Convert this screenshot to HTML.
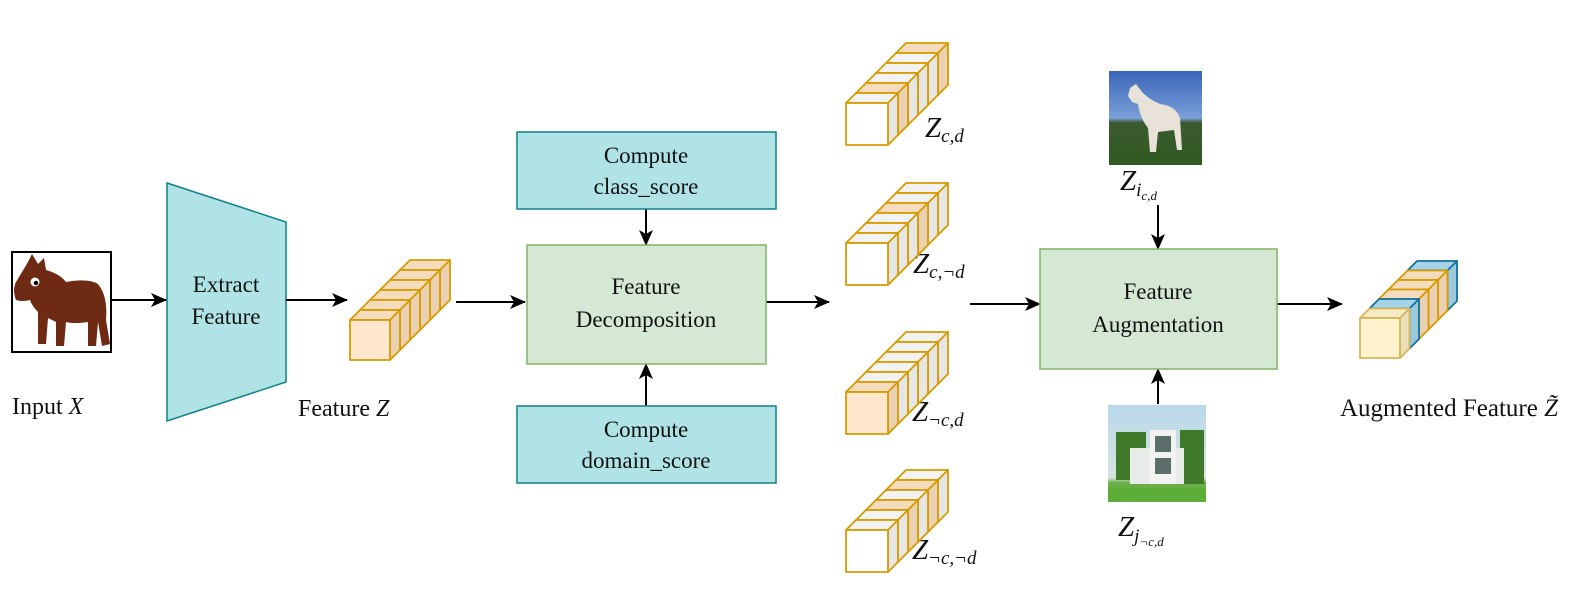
<!DOCTYPE html>
<html><head><meta charset="utf-8"><style>
body{margin:0;background:#fff;}
svg{display:block;}
text{font-family:"Liberation Serif",serif;fill:#111;}
</style></head><body>
<svg id="s" width="1578" height="599" viewBox="0 0 1578 599" xmlns="http://www.w3.org/2000/svg">
<defs>
<marker id="ah" markerWidth="16" markerHeight="14" refX="15" refY="7" orient="auto" markerUnits="userSpaceOnUse">
<path d="M0,0 L16,7 L0,14 L4,7 Z" fill="#000"/>
</marker>
<linearGradient id="sky" x1="0" y1="0" x2="0" y2="1"><stop offset="0" stop-color="#3a64b8"/><stop offset="0.5" stop-color="#7aa0d8"/><stop offset="0.55" stop-color="#3c5a30"/><stop offset="1" stop-color="#2f5a20"/></linearGradient>
<linearGradient id="sky2" x1="0" y1="0" x2="0" y2="1"><stop offset="0" stop-color="#b8d8ea"/><stop offset="0.75" stop-color="#d8e4e0"/><stop offset="0.8" stop-color="#6cb04a"/><stop offset="1" stop-color="#5aa838"/></linearGradient>
</defs>

<!-- Input horse -->
<rect x="12" y="252" width="99" height="100" fill="#fff" stroke="#000" stroke-width="2"/>
<path d="M28,262 L32,254 L38,264 L44,258 L46,270 Q60,274 66,282 Q88,278 98,284 Q108,296 106,320 L110,344 L102,346 L98,322 L96,346 L88,346 L88,322 Q74,324 66,322 L64,346 L56,346 L56,322 L48,318 L46,344 L38,344 L38,312 Q32,306 30,300 Q22,302 16,300 Q12,290 16,282 Q22,272 28,262 Z" fill="#6e2a12"/>
<circle cx="35" cy="282" r="4.5" fill="#fff"/><circle cx="36" cy="283" r="2.2" fill="#000"/>
<text x="12" y="414" font-size="24">Input <tspan font-style="italic">X</tspan></text>

<!-- Extract feature -->
<polygon points="167,183 286,222 286,382 167,421" fill="#b0e3e6" stroke="#0e8088" stroke-width="1.5"/>
<text x="226" y="292" font-size="23" text-anchor="middle">Extract</text>
<text x="226" y="324" font-size="23" text-anchor="middle">Feature</text>

<!-- arrows -->
<g stroke="#000" stroke-width="2" marker-end="url(#ah)">
<line x1="111" y1="300" x2="166" y2="300"/>
<line x1="286" y1="300" x2="347" y2="300"/>
<line x1="456" y1="302" x2="525" y2="302"/>
<line x1="766" y1="302" x2="829" y2="302"/>
<line x1="970" y1="304" x2="1040" y2="304"/>
<line x1="1277" y1="304" x2="1342" y2="304"/>
<line x1="646" y1="209" x2="646" y2="245"/>
<line x1="646" y1="406" x2="646" y2="364"/>
<line x1="1158" y1="205" x2="1158" y2="249"/>
<line x1="1158" y1="404" x2="1158" y2="369"/>
</g>

<text x="298" y="416" font-size="24">Feature <tspan font-style="italic">Z</tspan></text>

<!-- Decomposition boxes -->
<rect x="517" y="132" width="259" height="77" fill="#b0e3e6" stroke="#0e8088" stroke-width="1.5"/>
<text x="646" y="163" font-size="23" text-anchor="middle">Compute</text>
<text x="646" y="194" font-size="23" text-anchor="middle">class_score</text>
<rect x="527" y="245" width="239" height="119" fill="#d5e8d4" stroke="#82b366" stroke-width="1.5"/>
<text x="646" y="294" font-size="23" text-anchor="middle">Feature</text>
<text x="646" y="327" font-size="23" text-anchor="middle">Decomposition</text>
<rect x="517" y="406" width="259" height="77" fill="#b0e3e6" stroke="#0e8088" stroke-width="1.5"/>
<text x="646" y="437" font-size="23" text-anchor="middle">Compute</text>
<text x="646" y="468" font-size="23" text-anchor="middle">domain_score</text>

<!-- Z labels -->
<text x="925" y="137" font-size="29" font-style="italic">Z<tspan font-size="19" dy="5">c,d</tspan></text>
<text x="913" y="273" font-size="29" font-style="italic">Z<tspan font-size="19" dy="5">c,¬d</tspan></text>
<text x="912" y="421" font-size="29" font-style="italic">Z<tspan font-size="19" dy="5">¬c,d</tspan></text>
<text x="912" y="559" font-size="29" font-style="italic">Z<tspan font-size="19" dy="5">¬c,¬d</tspan></text>

<!-- Augmentation -->
<rect x="1040" y="249" width="237" height="120" fill="#d5e8d4" stroke="#82b366" stroke-width="1.5"/>
<text x="1158" y="299" font-size="23" text-anchor="middle">Feature</text>
<text x="1158" y="332" font-size="23" text-anchor="middle">Augmentation</text>

<!-- images -->
<rect x="1109" y="71" width="93" height="94" fill="url(#sky)"/>
<path d="M1130,88 L1136,84 L1142,92 Q1150,100 1160,104 Q1176,106 1180,118 L1182,150 L1177,150 L1174,130 L1158,132 L1156,152 L1150,152 L1148,128 Q1140,118 1138,104 L1132,102 L1128,96 Z" fill="#e8e2d8"/>
<rect x="1108" y="405" width="98" height="97" fill="url(#sky2)"/>
<rect x="1116" y="432" width="30" height="48" fill="#3f7a2a"/>
<rect x="1180" y="430" width="24" height="54" fill="#3f7a2a"/>
<rect x="1130" y="448" width="54" height="36" fill="#e8ece8"/>
<rect x="1150" y="430" width="26" height="54" fill="#f2f2f0"/>
<rect x="1155" y="436" width="16" height="16" fill="#5a6e6a"/>
<rect x="1155" y="458" width="16" height="16" fill="#5a6e6a"/>
<rect x="1108" y="488" width="98" height="14" fill="#5cae38"/>

<text x="1120" y="190" font-size="29" font-style="italic">Z<tspan font-size="19" dy="6">i</tspan><tspan font-size="13" dy="4">c,d</tspan></text>
<text x="1118" y="536" font-size="29" font-style="italic">Z<tspan font-size="19" dy="6">j</tspan><tspan font-size="13" dy="4">¬c,d</tspan></text>

<text x="1340" y="416" font-size="25">Augmented Feature <tspan font-style="italic">Z̃</tspan></text>
<g id="cubes"></g>
</svg>
<script>
var C={
 o:{f:"#ffe6cc",t:"#f6dcbf",r:"#ebd1b3",s:"#d79b00"},
 w:{f:"#ffffff",t:"#f2f2f2",r:"#e6e6e6",s:"#d79b00"},
 y:{f:"#fff2cc",t:"#f7ebc6",r:"#ece0bc",s:"#d6b656"},
 b:{f:"#b1ddf0",t:"#a6d3e8",r:"#9cc9de",s:"#10739e"}
};
var g=document.getElementById("cubes"),out="";
function stack(x,y,s,d,cols){
 for(var i=cols.length-1;i>=0;i--){
  var c=C[cols[i]],X=x+i*d,Y=y-i*d,st=' stroke="'+c.s+'" stroke-width="1.8" stroke-linejoin="round"';
  out+='<polygon points="'+X+','+Y+' '+(X+d)+','+(Y-d)+' '+(X+s+d)+','+(Y-d)+' '+(X+s)+','+Y+'" fill="'+c.t+'"'+st+'/>';
  out+='<polygon points="'+(X+s)+','+Y+' '+(X+s+d)+','+(Y-d)+' '+(X+s+d)+','+(Y+s-d)+' '+(X+s)+','+(Y+s)+'" fill="'+c.r+'"'+st+'/>';
  out+='<rect x="'+X+'" y="'+Y+'" width="'+s+'" height="'+s+'" fill="'+c.f+'"'+st+'/>';
 }
}
stack(350,320,40,10,["o","o","o","o","o","o"]);
stack(846,103,42,10,["w","o","w","w","w","o"]);
stack(846,243,42,10,["w","w","w","o","w","w"]);
stack(846,392,42,10,["o","w","w","w","w","w"]);
stack(846,530,42,10,["w","w","o","w","o","w"]);
stack(1360,318,40,9.5,["y","b","o","o","o","b"]);
g.innerHTML=out;
</script>
</body></html>
